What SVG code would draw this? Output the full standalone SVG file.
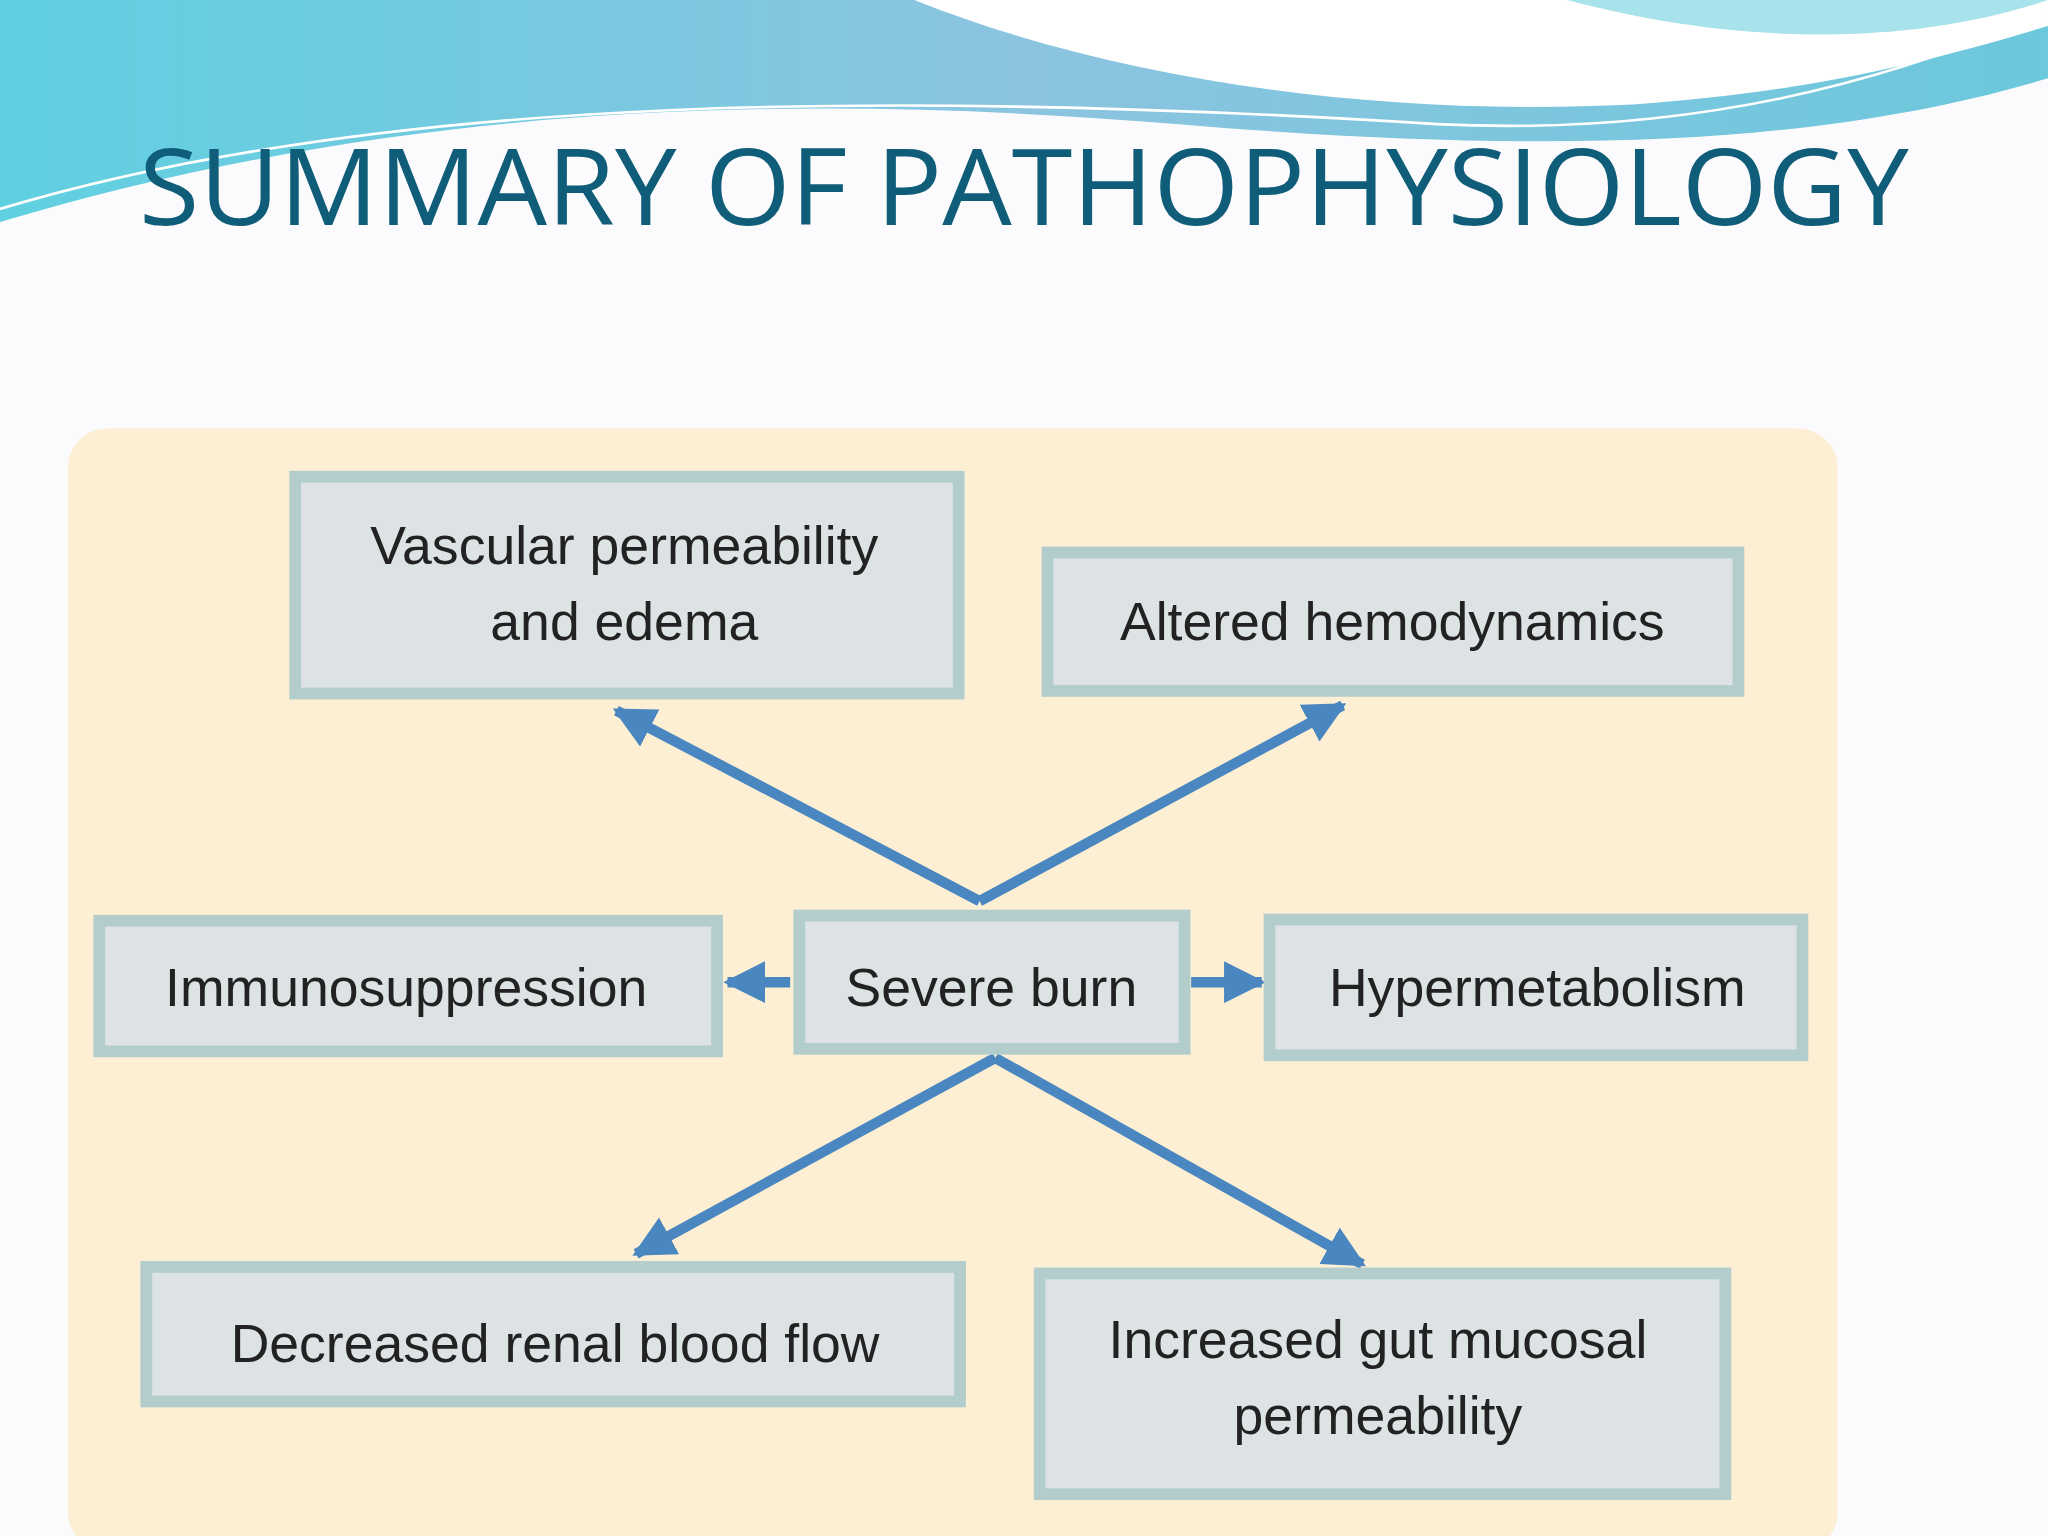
<svg xmlns="http://www.w3.org/2000/svg" width="2048" height="1536" viewBox="0 0 2048 1536">
<defs>
<linearGradient id="wave" x1="0" y1="0" x2="1" y2="0"><stop offset="0" stop-color="#5fd0e0"/><stop offset="0.5" stop-color="#8cc4e0"/><stop offset="1" stop-color="#6cc8dc"/></linearGradient>
<marker id="ah" viewBox="0 0 10 10" refX="9" refY="5" markerWidth="4" markerHeight="4" orient="auto"><path d="M0,0 L10,5 L0,10 z" fill="#4a86c0"/></marker>
<style>
.box{fill:#dde3e4;stroke:#b3cdcd;stroke-width:9}
.t{font-family:'Liberation Sans',Arial,sans-serif;font-size:41px;fill:#222;text-anchor:middle}
.c{stroke:#4a86c0;stroke-width:8;fill:none;marker-end:url(#ah)}
</style>
</defs>
<rect width="2048" height="1536" fill="#fbfbfd"/>
<g transform="scale(1.3061)">
<path d="M0,0 H1568 V60 C1400,110 1200,120 900,95 C600,70 300,80 0,170 Z" fill="url(#wave)"/>
<path d="M700,0 C850,60 1050,90 1250,80 C1400,70 1500,40 1568,20 V0 Z" fill="#ffffff"/>
<path d="M1200,0 C1350,40 1480,30 1568,0 Z" fill="#a8e2ea"/>
<path d="M0,160 C300,70 700,70 1100,95 C1300,105 1450,60 1568,10" stroke="#ffffff" stroke-width="2" fill="none"/>
<text x="784" y="172" font-family="Open Sans,Liberation Sans,sans-serif" font-size="82" fill="#0f5d78" text-anchor="middle" textLength="1355" lengthAdjust="spacingAndGlyphs">SUMMARY OF PATHOPHYSIOLOGY</text>
<rect x="52" y="328" width="1355" height="860" rx="30" fill="#fcefd3"/>
<g id="connectors">
<path class="c" d="M750,690 L472,544"/>
<path class="c" d="M750,690 L1028,540"/>
<path class="c" d="M762,810 L487,960"/>
<path class="c" d="M762,810 L1043,968"/>
<path class="c" d="M605,752 L557,752"/>
<path class="c" d="M912,752 L966,752"/>
</g>
<g id="vascular"><rect class="box" x="226" y="365" width="508" height="166"/><text class="t" x="478" y="432">Vascular permeability</text><text class="t" x="478" y="490">and edema</text></g>
<g id="altered"><rect class="box" x="802" y="423" width="529" height="106"/><text class="t" x="1066" y="490">Altered hemodynamics</text></g>
<g id="immuno"><rect class="box" x="76" y="705" width="473" height="100"/><text class="t" x="311" y="770">Immunosuppression</text></g>
<g id="severe"><rect class="box" x="612" y="701" width="295" height="102"/><text class="t" x="759" y="770">Severe burn</text></g>
<g id="hyper"><rect class="box" x="972" y="704" width="408" height="104"/><text class="t" x="1177" y="770">Hypermetabolism</text></g>
<g id="decreased"><rect class="box" x="112" y="970" width="623" height="103"/><text class="t" x="425" y="1043">Decreased renal blood flow</text></g>
<g id="increased"><rect class="box" x="796" y="975" width="525" height="169"/><text class="t" x="1055" y="1040">Increased gut mucosal</text><text class="t" x="1055" y="1098">permeability</text></g>
</g>
</svg>
